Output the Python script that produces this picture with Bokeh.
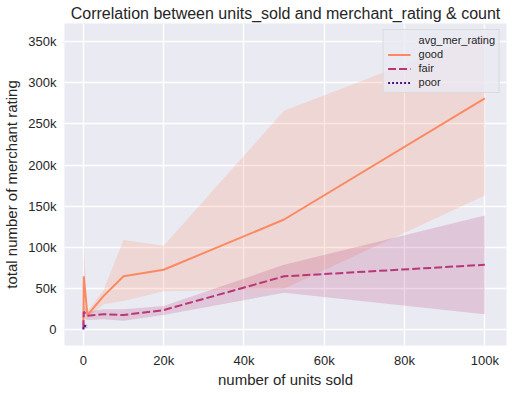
from bokeh.plotting import figure
from bokeh.models import (Range1d, FixedTicker, CustomJSTickFormatter, Legend, LegendItem,
                          ColumnDataSource)
from bokeh.embed import file_html
from bokeh.resources import INLINE

# ---------------- data ----------------
units_sold = [1, 10, 50, 100, 1000, 5000, 10000, 20000, 50000, 100000]

good_mean = [6000, 14000, 30000, 65000, 18000, 41000, 65000, 73000, 134000, 281000]
good_lo = [1000, 5000, 15000, 30000, 14000, 31000, 35000, 47000, 50000, 163000]
good_hi = [12000, 25000, 50000, 107000, 22000, 48000, 109000, 102000, 266000, 360000]

fair_mean = [2000, 6000, 12000, 22000, 17000, 19000, 18000, 24000, 65000, 79000]
fair_lo = [500, 2000, 6000, 14000, 12000, 13000, 11000, 18000, 45000, 19000]
fair_hi = [4000, 10000, 18000, 30000, 22000, 25000, 25000, 29000, 79000, 139000]

poor_x = [1, 10, 50, 100, 1000]
poor_mean = [500, 1500, 3000, 5000, 4000]
poor_lo = [100, 500, 1000, 2000, 2000]
poor_hi = [1000, 3000, 5000, 8000, 6000]

x_ticks = [0, 20000, 40000, 60000, 80000, 100000]
y_ticks = [0, 50000, 100000, 150000, 200000, 250000, 300000, 350000]

series_names = ["good", "fair", "poor"]
colors = ["#fc8961", "#b73779", "#51127c"]
dashes = ["solid", "8 3", "2 2"]

FONT = "Liberation Sans"
TXT = "#262626"

p = figure(width=510, height=390, output_backend="svg", toolbar_location=None,
           x_range=Range1d(-4700, 105400), y_range=Range1d(-19000, 372000),
           title="Correlation between units_sold and merchant_rating & count",
           min_border_left=0, min_border_right=4, min_border_top=0, min_border_bottom=0)

p.title.align = "center"
p.title.text_font = FONT
p.title.text_font_size = "16px"
p.title.text_font_style = "normal"
p.title.text_color = TXT
p.title.standoff = 4

p.background_fill_color = "#EAEAF2"
p.border_fill_color = "white"
p.outline_line_color = None

for g in (p.xgrid, p.ygrid):
    g.grid_line_color = "white"
    g.grid_line_width = 1.3

p.xaxis.ticker = FixedTicker(ticks=x_ticks)
p.yaxis.ticker = FixedTicker(ticks=y_ticks)
fmt = CustomJSTickFormatter(code="return tick == 0 ? '0' : (tick/1000) + 'k';")
p.xaxis.formatter = fmt
p.yaxis.formatter = fmt

for ax in (p.xaxis, p.yaxis):
    ax.axis_line_color = None
    ax.major_tick_line_color = None
    ax.minor_tick_line_color = None
    ax.major_tick_out = 0
    ax.major_tick_in = 0
    ax.major_label_text_font = FONT
    ax.major_label_text_font_size = "13px"
    ax.major_label_text_color = TXT
    ax.axis_label_text_font = FONT
    ax.axis_label_text_font_size = "15px"
    ax.axis_label_text_font_style = "normal"
    ax.axis_label_text_color = TXT

p.xaxis.axis_label = "number of units sold"
p.yaxis.axis_label = "total number of merchant rating"
p.xaxis.major_label_standoff = 7
p.yaxis.major_label_standoff = 8
p.xaxis.axis_label_standoff = 0
p.yaxis.axis_label_standoff = 5

data = [
    (units_sold, good_mean, good_lo, good_hi),
    (units_sold, fair_mean, fair_lo, fair_hi),
    (poor_x, poor_mean, poor_lo, poor_hi),
]

line_renderers = []
for (xs, m, lo, hi), c, d in zip(data, colors, dashes):
    src = ColumnDataSource(dict(x=xs, m=m, lo=lo, hi=hi))
    p.varea(x="x", y1="lo", y2="hi", source=src, fill_color=c, fill_alpha=0.2)
for (xs, m, lo, hi), c, d in zip(data, colors, dashes):
    src = ColumnDataSource(dict(x=xs, m=m))
    r = p.line(x="x", y="m", source=src, line_color=c, line_width=2, line_dash=d)
    line_renderers.append(r)

dummy = p.line(x=[0], y=[0], line_alpha=0)

items = [LegendItem(label="avg_mer_rating", renderers=[dummy])]
for name, r in zip(series_names, line_renderers):
    items.append(LegendItem(label=name, renderers=[r]))

legend = Legend(items=items, location="top_right",
                label_text_font=FONT, label_text_font_size="11px", label_text_color=TXT,
                label_height=11, glyph_height=11, glyph_width=23, label_standoff=8,
                spacing=2, padding=4, margin=6,
                background_fill_color="#EAEAF2", background_fill_alpha=0.8,
                border_line_color="#cccccc", border_line_width=1)
p.add_layout(legend, "center")

open("out.html", "w").write(file_html(p, INLINE))
